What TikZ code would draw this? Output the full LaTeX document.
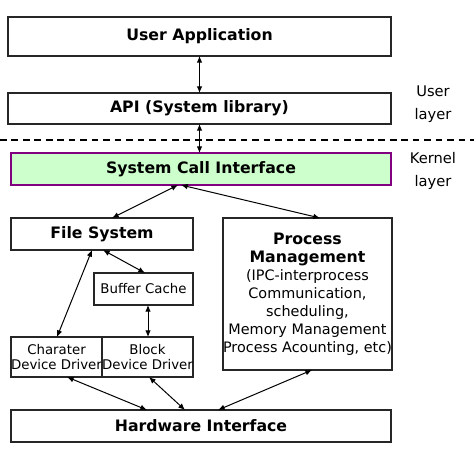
\documentclass[tikz,border=0pt]{standalone}
\usepackage{fontspec}
\setmainfont{DejaVu Sans}
\usetikzlibrary{calc,arrows.meta}
\newdimen\px \px=0.75pt

\begin{document}
\begin{tikzpicture}[x=0.75pt,y=-0.75pt]
\def\boxcol{black!85}
\definecolor{scifill}{RGB}{204,255,204}
\definecolor{sciline}{RGB}{128,0,128}

\tikzset{every node/.style={inner sep=0pt, outer sep=0pt, align=center}}
\tikzset{layerbox/.style={draw=\boxcol, line width=1.1pt, anchor=north west}}
\tikzset{bigtxt/.style={font=\fontsize{11.8}{14}\selectfont\bfseries}}
\tikzset{smalltxt/.style={font=\fontsize{10}{11}\selectfont}}
\tikzset{link/.style={{Latex[length=5pt,width=4.2pt]}-{Latex[length=5pt,width=4.2pt]}, line width=.75pt, draw=black}}

\useasboundingbox (0,0) rectangle (474,460);

%%%%%% user side
\node(app)at(8,17)[layerbox,bigtxt,minimum width=383\px,minimum height=39\px]{User Application};
\node(api)at(8,93)[layerbox,bigtxt,minimum width=383\px,minimum height=31\px]{API (System library)};

%%%%%% border between layers
\coordinate(sepl)at(0,140);
\coordinate(sepr)at(474,140);
\draw[line width=.8pt,dash pattern=on 5pt off 3.6pt] (sepl) -- (sepr);

\node(userlbl)at(433,104)[font=\fontsize{11}{17}\selectfont]{User\\layer};
\node(kernlbl)at(433,171)[font=\fontsize{11}{17}\selectfont]{Kernel\\layer};

%%%%%% kernel side
\node(sci)at(11,153)[layerbox,bigtxt,draw=sciline,fill=scifill,minimum width=380\px,minimum height=32\px]{System Call Interface};
\node(fs)at(11,218)[layerbox,bigtxt,minimum width=182\px,minimum height=32\px]{File System};
\node(pm)at(223,218)[layerbox,minimum width=168\px,minimum height=152\px,font=\fontsize{10.8}{13.5}\selectfont]{{\fontsize{11.8}{14}\selectfont\bfseries Process}\\{\fontsize{11.8}{14}\selectfont\bfseries Management}\\(IPC-interprocess\\Communication,\\scheduling,\\Memory Management\\Process Acounting, etc)};
\node(bc)at(94,273)[layerbox,smalltxt,minimum width=99\px,minimum height=32\px]{Buffer Cache};
\node(cdd)at(11,337)[layerbox,smalltxt,minimum width=91\px,minimum height=40\px]{Charater\\Device Driver};
\node(bdd)at(102,337)[layerbox,smalltxt,minimum width=91\px,minimum height=40\px]{Block\\Device Driver};
\node(hw)at(11,410)[layerbox,bigtxt,minimum width=380\px,minimum height=32\px]{Hardware Interface};

%%%%%% links
\path (app.south) edge[link] (api.north);
\path (api.south) edge[link] (api.south |- sci.north);
\path ($(sci.south west)+(167,0)$) edge[link] ($(fs.north west)+(101,0)$);
\path ($(sci.south west)+(170,0)$) edge[link] ($(pm.north west)+(97,0)$);
\path ($(fs.south west)+(81,0)$) edge[link] ($(cdd.north west)+(46,0)$);
\path ($(fs.south west)+(92,0)$) edge[link] ($(bc.north west)+(51,0)$);
\path ($(bc.south west)+(54,0)$) edge[link] ($(bdd.north west)+(46,0)$);
\path ($(cdd.south west)+(56,0)$) edge[link] ($(hw.north west)+(136,0)$);
\path ($(bdd.south west)+(47,0)$) edge[link] ($(hw.north west)+(174,0)$);
\path ($(pm.south west)+(89,0)$) edge[link] ($(hw.north west)+(207,0)$);
\end{tikzpicture}
\end{document}
